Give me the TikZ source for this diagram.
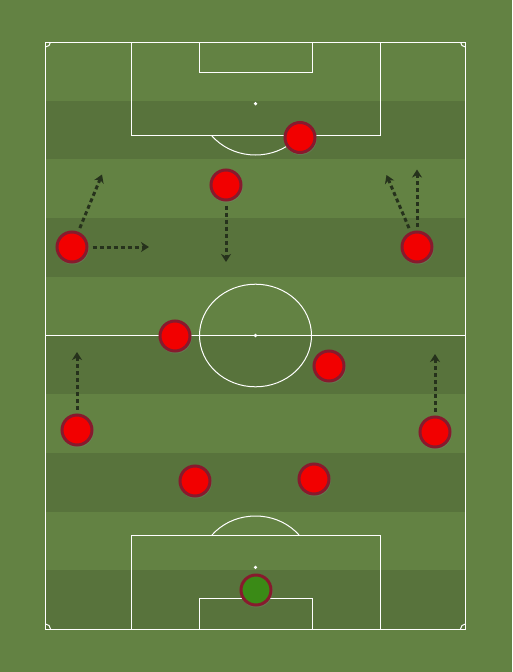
\documentclass[tikz,border=0pt]{standalone}
\usetikzlibrary{arrows.meta,shadows}
\definecolor{grasslight}{RGB}{99,130,67}
\definecolor{grassdark}{RGB}{88,115,60}
\definecolor{kitred}{RGB}{242,0,0}
\definecolor{kitrim}{RGB}{135,26,45}
\definecolor{keepergreen}{RGB}{58,138,22}
\definecolor{runline}{RGB}{38,50,28}
\tikzset{
	player/.style={circle,draw=kitrim,line width=3pt,fill=kitred,minimum size=30pt,inner sep=0pt,
		drop shadow={shadow xshift=0.6pt,shadow yshift=-1.2pt,shadow scale=1.08,opacity=.3}},
	keeper/.style={player,fill=keepergreen},
	run/.style={draw=runline,line width=3pt,dash pattern=on 4pt off 3pt,
		-{Stealth[length=8pt,width=10pt,inset=2.5pt]},shorten <=4pt},
	pitchline/.style={draw=white,line width=1pt}
}
\begin{document}
\begin{tikzpicture}[x=1pt,y=-1pt]%SA DO 4-4-2
			\useasboundingbox (0,0) rectangle (512,672);
			\fill[grasslight] (0,0) rectangle (512,672);
			\foreach \i in {1,3,5,7,9}
			\fill[grassdark] (45.5,{42+\i*58.7}) rectangle (465.5,{42+(\i+1)*58.7});
			\begin{scope}[pitchline]
			\draw (45.5,42) rectangle (465.5,629);
			\draw (45.5,335.5)--(465.5,335.5);
			\draw (255.5,335.5) ellipse[x radius=56pt,y radius=51.3pt];
			\draw (131.3,42) rectangle (380.7,135.3)  (199.7,42) rectangle (312.7,72.7);
			\draw (131.3,535.7) rectangle (380.7,629)  (199.7,598.3) rectangle (312.7,629);
			\foreach \y in {103.7,335.5,567.3}
			\fill[white] (255.5,\y) circle[radius=1.8pt];
			\begin{scope}
			\clip (45.5,135.3) rectangle (465.5,535.7);
			\draw (255.5,103.7) ellipse[x radius=56pt,y radius=51.3pt];
			\draw (255.5,567.3) ellipse[x radius=56pt,y radius=51.3pt];
			\end{scope}
			\begin{scope}
			\clip (45.5,42) rectangle (465.5,629);
			\foreach \x in {45.5,465.5}
			\foreach \y in {42,629}
			\draw (\x,\y) circle[radius=5pt];
			\end{scope}
			\end{scope}
			% players
			\node[player] (p1) at (300,137.5) {};
			\node[player] (p2) at (226,185) {};
			\node[player] (p3) at (72,247) {};
			\node[player] (p4) at (417,247) {};
			\node[player] (p5) at (175,336) {};
			\node[player] (p6) at (329,366) {};
			\node[player] (p7) at (77,430) {};
			\node[player] (p8) at (435,432) {};
			\node[player] (p9) at (195,481) {};
			\node[player] (p10) at (314,479) {};
			\node[keeper] (gk) at (256,590) {};
			% runs
			\coordinate (r3a) at (102,174.5);
			\coordinate (r3b) at (149,247);
			\coordinate (r2) at (226,262);
			\coordinate (r4a) at (386.5,175);
			\coordinate (r4b) at (417,169.5);
			\coordinate (r7) at (77,352);
			\coordinate (r8) at (435,354);
			\draw[run] (p3)--(r3a);
			\draw[run] (p3)--(r3b);
			\draw[run] (p2)--(r2);
			\draw[run] (p4)--(r4a);
			\draw[run] (p4)--(r4b);
			\draw[run] (p7)--(r7);
			\draw[run] (p8)--(r8);
\end{tikzpicture}
\end{document}
